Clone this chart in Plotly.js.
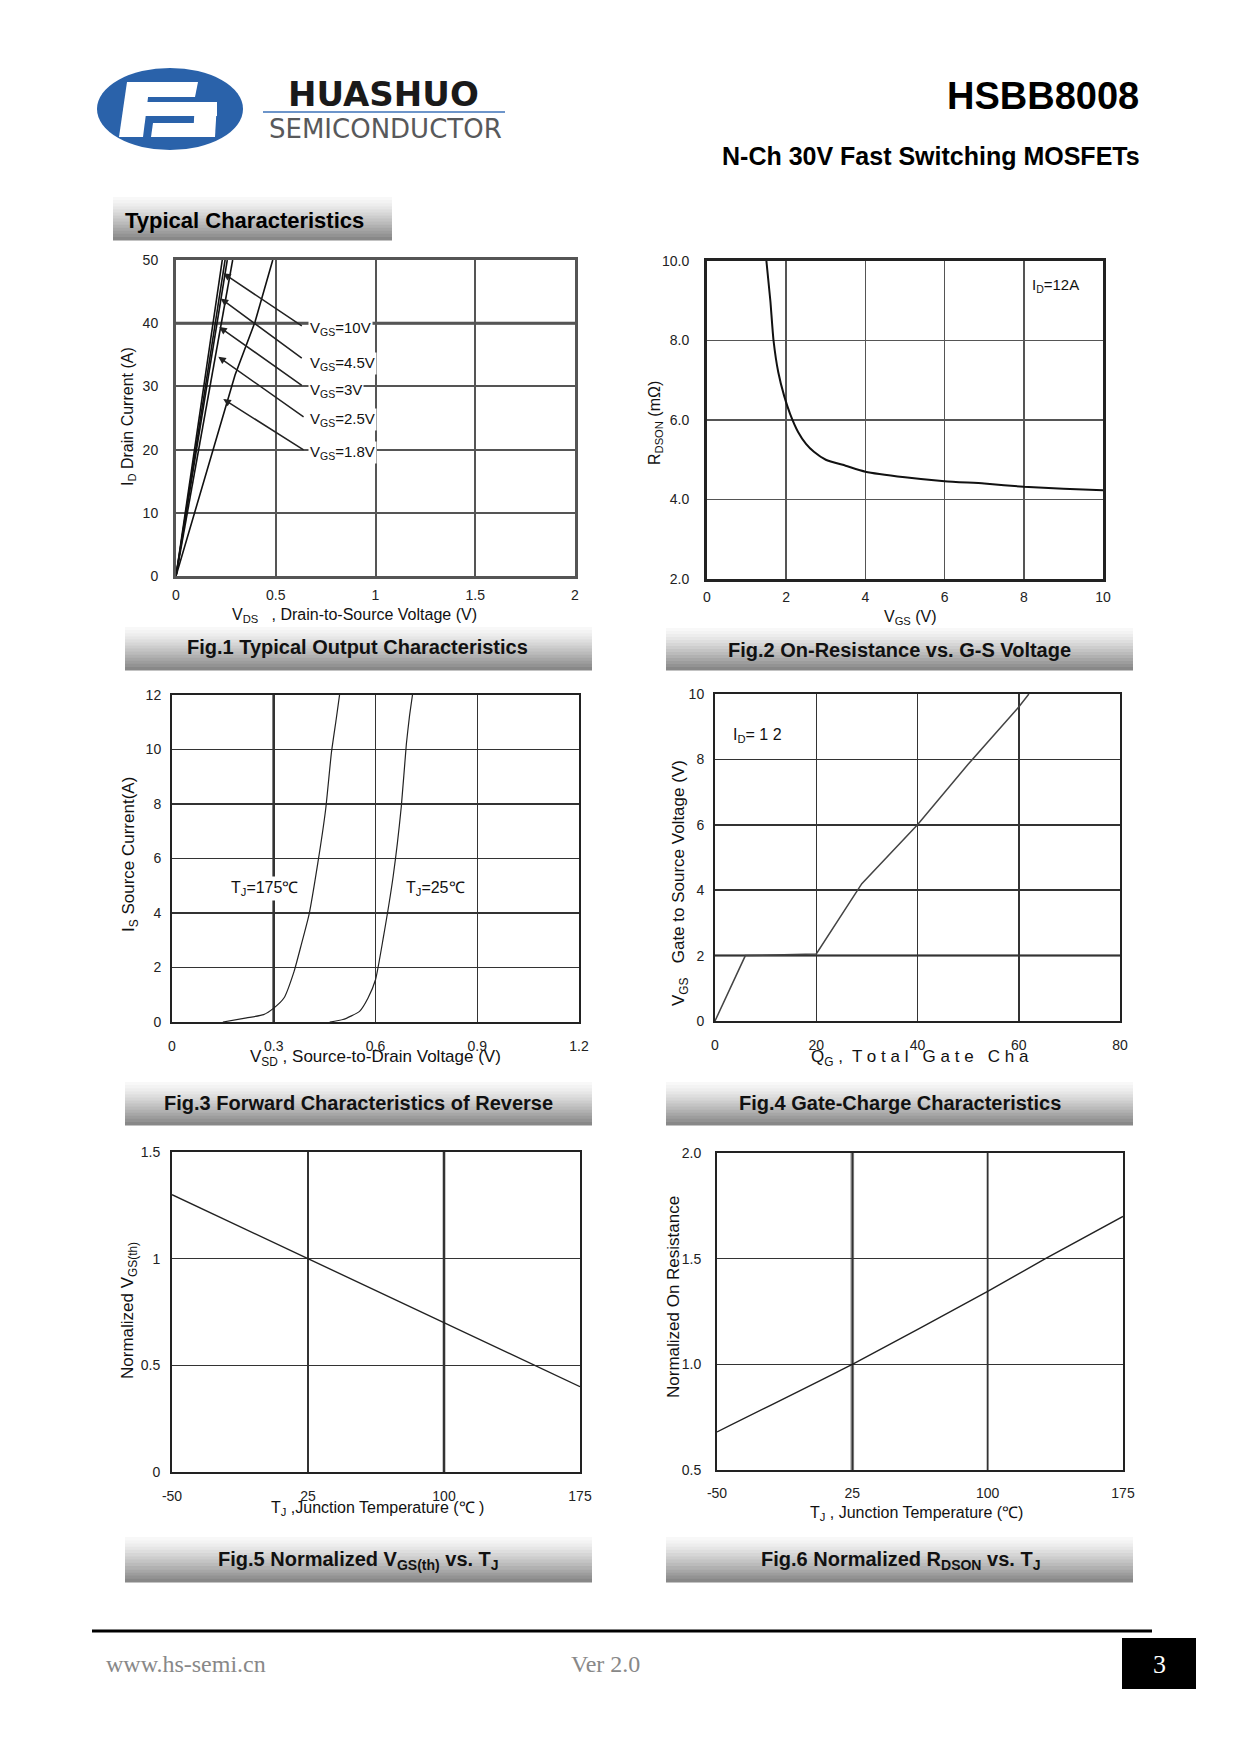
<!DOCTYPE html>
<html>
<head>
<meta charset="utf-8">
<script src="https://cdn.plot.ly/plotly-3.0.1.min.js"></script>
<style>
  html, body { margin: 0; padding: 0; background: #ffffff; }
  #page { width: 1240px; height: 1754px; }
</style>
</head>
<body>
<div id="page"></div>
<script>
// ---------------- DATA ----------------
// Fig.1 Typical Output Characteristics (V_DS in V, I_D in A)
const fig1_labels = ['V<sub>GS</sub>=10V', 'V<sub>GS</sub>=4.5V', 'V<sub>GS</sub>=3V', 'V<sub>GS</sub>=2.5V', 'V<sub>GS</sub>=1.8V'];
const fig1_vds_10V = [0, 0.232];
const fig1_id_10V = [0, 50];
const fig1_vds_4p5V = [0, 0.246];
const fig1_id_4p5V = [0, 50];
const fig1_vds_3V = [0, 0.257];
const fig1_id_3V = [0, 50];
const fig1_vds_2p5V = [0, 0.284];
const fig1_id_2p5V = [0, 50];
const fig1_vds_1p8V = [0, 0.296, 0.396, 0.485];
const fig1_id_1p8V = [0, 31.8, 40.2, 50];
const fig1_xticks = [0, 0.5, 1, 1.5, 2];
const fig1_xlabels = ['0', '0.5', '1', '1.5', '2'];
const fig1_yticks = [0, 10, 20, 30, 40, 50];
const fig1_ylabels = ['0', '10', '20', '30', '40', '50'];

// Fig.2 On-Resistance vs. G-S Voltage
const fig2_vgs = [1.5, 1.6, 1.68, 1.8, 1.95, 2.1, 2.3, 2.5, 2.7, 3.0, 3.5, 4, 5, 6, 7, 8, 9, 10];
const fig2_rdson = [10, 9.0, 8.0, 7.2, 6.6, 6.15, 5.7, 5.4, 5.2, 5.0, 4.85, 4.7, 4.56, 4.46, 4.4, 4.32, 4.27, 4.23];
const fig2_xticks = [0, 2, 4, 6, 8, 10];
const fig2_xlabels = ['0', '2', '4', '6', '8', '10'];
const fig2_yticks = [2, 4, 6, 8, 10];
const fig2_ylabels = ['2.0', '4.0', '6.0', '8.0', '10.0'];

// Fig.3 Forward Characteristics of Reverse
const fig3_vsd_175C = [0.15, 0.22, 0.27, 0.30, 0.33, 0.36, 0.38, 0.404, 0.43, 0.453, 0.47, 0.484, 0.494];
const fig3_is_175C = [0, 0.15, 0.27, 0.51, 0.88, 1.86, 2.78, 3.94, 5.84, 7.8, 9.88, 11.1, 12];
const fig3_vsd_25C = [0.465, 0.504, 0.553, 0.578, 0.60, 0.622, 0.652, 0.676, 0.691, 0.70, 0.709];
const fig3_is_25C = [0, 0.09, 0.39, 0.88, 1.55, 3.02, 5.34, 7.9, 10.2, 11.2, 12];
const fig3_xticks = [0, 0.3, 0.6, 0.9, 1.2];
const fig3_xlabels = ['0', '0.3', '0.6', '0.9', '1.2'];
const fig3_yticks = [0, 2, 4, 6, 8, 10, 12];
const fig3_ylabels = ['0', '2', '4', '6', '8', '10', '12'];

// Fig.4 Gate-Charge Characteristics
const fig4_qg = [0, 6, 20, 29, 40, 50, 60, 62];
const fig4_vgs = [0, 2, 2.05, 4.2, 6.0, 7.85, 9.6, 10];
const fig4_xticks = [0, 20, 40, 60, 80];
const fig4_xlabels = ['0', '20', '40', '60', '80'];
const fig4_yticks = [0, 2, 4, 6, 8, 10];
const fig4_ylabels = ['0', '2', '4', '6', '8', '10'];

// Fig.5 Normalized VGS(th) vs. TJ
const fig5_tj = [-50, 25, 100, 175];
const fig5_vth = [1.3, 1.0, 0.7, 0.4];
const fig5_xticks = [-50, 25, 100, 175];
const fig5_xlabels = ['-50', '25', '100', '175'];
const fig5_yticks = [0, 0.5, 1, 1.5];
const fig5_ylabels = ['0', '0.5', '1', '1.5'];

// Fig.6 Normalized RDSON vs. TJ
const fig6_tj = [-50, 25, 100, 132, 175];
const fig6_ron = [0.68, 1.0, 1.345, 1.5, 1.70];
const fig6_xticks = [-50, 25, 100, 175];
const fig6_xlabels = ['-50', '25', '100', '175'];
const fig6_yticks = [0.5, 1.0, 1.5, 2.0];
const fig6_ylabels = ['0.5', '1.0', '1.5', '2.0'];

// ---------------- LAYOUT HELPERS ----------------
const W = 1240, H = 1754;
const X = p => p / W;
const Y = p => 1 - p / H;
const SANS = 'Liberation Sans, Arial, Helvetica, sans-serif';
const SERIF = 'Liberation Serif, Times New Roman, serif';

function xAxis(l, r, range, tv, tt, o) {
  return Object.assign({
    domain: [X(l), X(r)], range: range, tickmode: 'array', tickvals: tv, ticktext: tt,
    showgrid: true, gridcolor: '#333', gridwidth: 1.5, zeroline: false,
    showline: true, mirror: true, linecolor: '#222', linewidth: 2,
    ticks: '', tickfont: { family: SANS, size: 14, color: '#222' }, fixedrange: true
  }, o || {});
}
function yAxis(t, b, range, tv, tt, o) {
  return Object.assign({
    domain: [Y(b), Y(t)], range: range, tickmode: 'array', tickvals: tv, ticktext: tt,
    showgrid: true, gridcolor: '#333', gridwidth: 1.5, zeroline: false,
    showline: true, mirror: true, linecolor: '#222', linewidth: 2,
    ticks: '', tickfont: { family: SANS, size: 14, color: '#222' }, fixedrange: true
  }, o || {});
}
function txt(text, x, y, size, o) {
  return Object.assign({
    text: text, x: X(x), y: Y(y), xref: 'paper', yref: 'paper', showarrow: false,
    xanchor: 'center', yanchor: 'middle', font: { family: SANS, size: size, color: '#111' }
  }, o || {});
}
function line(x, y, xa, ya, w, c) {
  return { type: 'scatter', mode: 'lines', x: x, y: y, xaxis: xa, yaxis: ya,
           line: { color: c || '#111', width: w }, hoverinfo: 'skip' };
}

// ---------------- TRACES ----------------
const traces = [
  line(fig1_vds_10V, fig1_id_10V, 'x', 'y', 1.6),
  line(fig1_vds_4p5V, fig1_id_4p5V, 'x', 'y', 1.6),
  line(fig1_vds_3V, fig1_id_3V, 'x', 'y', 1.6),
  line(fig1_vds_2p5V, fig1_id_2p5V, 'x', 'y', 1.6),
  line(fig1_vds_1p8V, fig1_id_1p8V, 'x', 'y', 1.6),
  Object.assign(line(fig2_vgs, fig2_rdson, 'x2', 'y2', 2), { line: { color: '#111', width: 2, shape: 'spline', smoothing: 0.6 } }),
  Object.assign(line(fig3_vsd_175C, fig3_is_175C, 'x3', 'y3', 1.2), { line: { color: '#222', width: 1.2, shape: 'spline', smoothing: 0.5 } }),
  Object.assign(line(fig3_vsd_25C, fig3_is_25C, 'x3', 'y3', 1.2), { line: { color: '#222', width: 1.2, shape: 'spline', smoothing: 0.5 } }),
  line(fig4_qg, fig4_vgs, 'x4', 'y4', 1.5, '#444'),
  line(fig5_tj, fig5_vth, 'x5', 'y5', 1.4, '#222'),
  Object.assign(line(fig6_tj, fig6_ron, 'x6', 'y6', 1.4), { line: { color: '#222', width: 1.4, shape: 'spline', smoothing: 0.4 } })
];

// ---------------- SHAPES ----------------
const shapes = [];
// gradient bar helper
function gradBar(l, t, r, b) {
  const n = 14;
  for (let i = 0; i < n; i++) {
    const f = i / (n - 1);
    const v = Math.round(248 - (248 - 136) * Math.pow(f, 1.25));
    const c = 'rgb(' + v + ',' + v + ',' + v + ')';
    const y0 = t + (b - t) * i / n, y1 = t + (b - t) * (i + 1) / n;
    shapes.push({ type: 'rect', xref: 'paper', yref: 'paper', x0: X(l), x1: X(r), y0: Y(y1 + 0.5), y1: Y(y0),
                  line: { width: 0 }, fillcolor: c, layer: 'below' });
  }
}
gradBar(113, 197, 392, 240);
gradBar(125, 627, 592, 670);
gradBar(666, 628, 1133, 670);
gradBar(125, 1082, 592, 1125);
gradBar(666, 1082, 1133, 1125);
gradBar(125, 1537, 592, 1582);
gradBar(666, 1537, 1133, 1582);

// logo
const BLUE = '#2a62aa';
shapes.push({ type: 'circle', xref: 'paper', yref: 'paper', x0: X(97), x1: X(243), y0: Y(150), y1: Y(68),
              fillcolor: BLUE, line: { width: 0 } });
function poly(pts) {
  return 'M ' + pts.map(p => X(p[0]) + ',' + Y(p[1])).join(' L ') + ' Z';
}
const logoParts = [
  [[127, 82], [198, 82], [195, 97], [127, 97]],
  [[127, 82], [150, 82], [143, 137], [119, 137]],
  [[146, 102], [217, 102], [217, 116], [144, 116]],
  [[195, 102], [217, 102], [215, 137], [193, 137]],
  [[153, 123], [215, 123], [215, 137], [151, 137]]
];
logoParts.forEach(p => shapes.push({ type: 'path', xref: 'paper', yref: 'paper', path: poly(p),
                                      fillcolor: '#ffffff', line: { width: 0 } }));
// blue rule under HUASHUO
shapes.push({ type: 'line', xref: 'paper', yref: 'paper', x0: X(263), x1: X(505), y0: Y(112), y1: Y(112),
              line: { color: '#3d72b8', width: 1.6 } });
// footer rule and page box
shapes.push({ type: 'line', xref: 'paper', yref: 'paper', x0: X(92), x1: X(1152), y0: Y(1631), y1: Y(1631),
              line: { color: '#000', width: 3 } });
shapes.push({ type: 'rect', xref: 'paper', yref: 'paper', x0: X(1122), x1: X(1196), y0: Y(1689), y1: Y(1638),
              fillcolor: '#000', line: { width: 0 } });

// emphasised grid lines
shapes.push({ type: 'line', xref: 'x domain', yref: 'y', x0: 0, x1: 1, y0: 40, y1: 40, line: { color: '#444', width: 3 }, layer: 'below' });
shapes.push({ type: 'line', xref: 'x3', yref: 'y3 domain', x0: 0.3, x1: 0.3, y0: 0, y1: 1, line: { color: '#000', width: 2.5 }, layer: 'below' });
shapes.push({ type: 'line', xref: 'x4 domain', yref: 'y4', x0: 0, x1: 1, y0: 2, y1: 2, line: { color: '#111', width: 2 }, layer: 'below' });
shapes.push({ type: 'line', xref: 'x5', yref: 'y5 domain', x0: 100, x1: 100, y0: 0, y1: 1, line: { color: '#222', width: 2.5 }, layer: 'below' });
shapes.push({ type: 'line', xref: 'x6', yref: 'y6 domain', x0: 25, x1: 25, y0: 0, y1: 1, line: { color: '#777', width: 3.5 }, layer: 'below' });
shapes.push({ type: 'line', xref: 'x6', yref: 'y6 domain', x0: 100, x1: 100, y0: 0, y1: 1, line: { color: '#555', width: 2 }, layer: 'below' });

// ---------------- ANNOTATIONS ----------------
const ann = [];
// header
ann.push(txt('HUASHUO', 383, 94, 34, { font: { family: 'DejaVu Sans, ' + SANS, size: 34, color: '#1a1a1a', weight: 'bold' } }));
ann.push(txt('SEMICONDUCTOR', 385, 129, 26, { font: { family: 'DejaVu Sans, ' + SANS, size: 26, color: '#58595b' } }));
ann.push(txt('<b>HSBB8008</b>', 1141, 96, 38, { xanchor: 'right', font: { family: SANS, size: 38, color: '#000' } }));
ann.push(txt('<b>N-Ch 30V Fast Switching MOSFETs</b>', 1142, 156, 25, { xanchor: 'right', font: { family: SANS, size: 25, color: '#000' } }));
ann.push(txt('<b>Typical Characteristics</b>', 123, 220, 22, { xanchor: 'left', font: { family: SANS, size: 22, color: '#000' } }));

// captions
const capFont = { family: SANS, size: 20, color: '#111' };
ann.push(txt('<b>Fig.1 Typical Output Characteristics</b>', 357, 647, 20, { font: capFont }));
ann.push(txt('<b>Fig.2 On-Resistance vs. G-S Voltage</b>', 899, 650, 20, { font: capFont }));
ann.push(txt('<b>Fig.3 Forward Characteristics of Reverse</b>', 358, 1103, 20, { font: capFont }));
ann.push(txt('<b>Fig.4 Gate-Charge Characteristics</b>', 900, 1103, 20, { font: capFont }));
ann.push(txt('<b>Fig.5 Normalized V<sub>GS(th)</sub> vs. T<sub>J</sub></b>', 358, 1560, 20, { font: capFont }));
ann.push(txt('<b>Fig.6 Normalized R<sub>DSON</sub> vs. T<sub>J</sub></b>', 900, 1560, 20, { font: capFont }));

// axis titles
ann.push(txt('V<sub>DS</sub>   , Drain-to-Source Voltage (V)', 354, 615, 16));
ann.push(txt('I<sub>D</sub> Drain Current (A)', 128, 417, 16, { textangle: -90 }));
ann.push(txt('V<sub>GS</sub> (V)', 910, 617, 16));
ann.push(txt('R<sub>DSON</sub> (mΩ)', 655, 423, 16, { textangle: -90 }));
ann.push(txt('V<sub>SD</sub> , Source-to-Drain Voltage (V)', 375, 1058, 17));
ann.push(txt('I<sub>S</sub> Source Current(A)', 130, 855, 17, { textangle: -90 }));
ann.push(txt('Q<sub>G</sub> ,  T o t a l   G a t e   C h a', 920, 1058, 17));
ann.push(txt('V<sub>GS</sub>   Gate to Source Voltage (V)', 680, 883, 17, { textangle: -90 }));
ann.push(txt('T<sub>J</sub> ,Junction Temperature (℃ )', 378, 1508, 16));
ann.push(txt('Normalized V<sub>GS(th)</sub>', 129, 1311, 17, { textangle: -90 }));
ann.push(txt('T<sub>J</sub> , Junction Temperature (℃)', 916, 1513, 16));
ann.push(txt('Normalized On Resistance', 673, 1297, 17, { textangle: -90 }));

// in-plot labels
ann.push(txt('I<sub>D</sub>=12A', 1055, 285, 15));
ann.push(txt('T<sub>J</sub>=175℃', 264, 889, 16, { bgcolor: '#ffffff', borderpad: 2 }));
ann.push(txt('T<sub>J</sub>=25℃', 435, 889, 16, { bgcolor: '#ffffff', borderpad: 2 }));
ann.push(txt('I<sub>D</sub>= 1 2', 757, 735, 16));

// Fig.1 VGS labels with arrows
const fig1_tipV = [0.237, 0.224, 0.217, 0.212, 0.237];
const fig1_tipA = [47.9, 43.9, 39.4, 34.7, 28.0];
const fig1_tailV = [0.638, 0.638, 0.638, 0.647, 0.647];
const fig1_tailA = [39.4, 34.3, 30.0, 25.0, 19.8];
const fig1_labA = [39.2, 33.7, 29.4, 24.7, 19.6];
fig1_labels.forEach((lab, i) => {
  ann.push({ xref: 'x', yref: 'y', axref: 'x', ayref: 'y', x: fig1_tipV[i], y: fig1_tipA[i],
             ax: fig1_tailV[i], ay: fig1_tailA[i], text: '', showarrow: true,
             arrowhead: 2, arrowsize: 1, arrowwidth: 1.5, arrowcolor: '#222', standoff: 0 });
  ann.push({ xref: 'x', yref: 'y', x: 0.662, y: fig1_labA[i], text: lab, showarrow: false,
             xanchor: 'left', yanchor: 'middle', bgcolor: '#ffffff', borderpad: 1,
             font: { family: SANS, size: 15, color: '#111' } });
});

// footer
ann.push(txt('www.hs-semi.cn', 104, 1664, 24, { xanchor: 'left', font: { family: SERIF, size: 24, color: '#888' } }));
ann.push(txt('Ver 2.0', 605, 1664, 24, { font: { family: SERIF, size: 24, color: '#888' } }));
ann.push(txt('3', 1159, 1664, 26, { font: { family: SERIF, size: 26, color: '#fff' } }));

// ---------------- LAYOUT ----------------
const layout = {
  width: W, height: H, margin: { l: 0, r: 0, t: 0, b: 0 },
  paper_bgcolor: '#ffffff', plot_bgcolor: 'rgba(0,0,0,0)', showlegend: false,
  xaxis: xAxis(176, 575, [0, 2], fig1_xticks, fig1_xlabels, { anchor: 'y', gridcolor: '#555', gridwidth: 2, linecolor: '#555', linewidth: 3, ticklabelstandoff: 4 }),
  yaxis: yAxis(260, 576, [0, 50], fig1_yticks, fig1_ylabels, { anchor: 'x', gridcolor: '#555', gridwidth: 2, linecolor: '#555', linewidth: 3, ticklabelstandoff: 12 }),
  xaxis2: xAxis(707, 1103, [0, 10], fig2_xticks, fig2_xlabels, { anchor: 'y2', gridcolor: '#555', linecolor: '#222', linewidth: 3, ticklabelstandoff: 3 }),
  yaxis2: yAxis(261, 579, [2, 10], fig2_yticks, fig2_ylabels, { anchor: 'x2', gridcolor: '#555', linecolor: '#222', linewidth: 3, ticklabelstandoff: 12 }),
  xaxis3: xAxis(172, 579, [0, 1.2], fig3_xticks, fig3_xlabels, { anchor: 'y3', ticklabelstandoff: 10 }),
  yaxis3: yAxis(695, 1022, [0, 12], fig3_yticks, fig3_ylabels, { anchor: 'x3', ticklabelstandoff: 6 }),
  xaxis4: xAxis(715, 1120, [0, 80], fig4_xticks, fig4_xlabels, { anchor: 'y4', ticklabelstandoff: 10 }),
  yaxis4: yAxis(694, 1021, [0, 10], fig4_yticks, fig4_ylabels, { anchor: 'x4', ticklabelstandoff: 6 }),
  xaxis5: xAxis(172, 580, [-50, 175], fig5_xticks, fig5_xlabels, { anchor: 'y5', ticklabelstandoff: 10 }),
  yaxis5: yAxis(1152, 1472, [0, 1.5], fig5_yticks, fig5_ylabels, { anchor: 'x5', ticklabelstandoff: 7 }),
  xaxis6: xAxis(717, 1123, [-50, 175], fig6_xticks, fig6_xlabels, { anchor: 'y6', ticklabelstandoff: 9 }),
  yaxis6: yAxis(1153, 1470, [0.5, 2.0], fig6_yticks, fig6_ylabels, { anchor: 'x6', ticklabelstandoff: 11 }),
  shapes: shapes,
  annotations: ann
};

Plotly.newPlot('page', traces, layout, { staticPlot: true, displayModeBar: false });
</script>
</body>
</html>
